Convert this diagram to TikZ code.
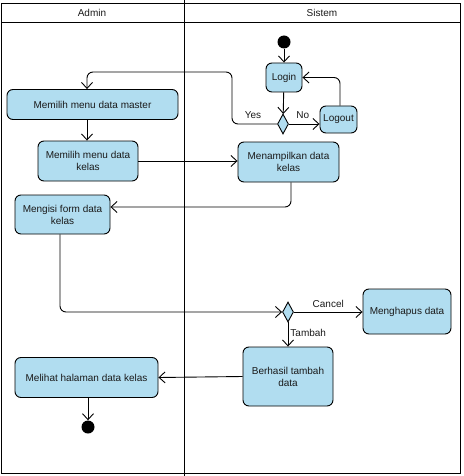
\documentclass[tikz,border=0pt]{standalone}
\usepackage{fontspec}
\setmainfont{Liberation Sans}
\usetikzlibrary{arrows.meta,shapes.geometric}
\definecolor{boxfill}{HTML}{B1DDF0}
\definecolor{txt}{HTML}{1A1A1A}
\tikzset{
  act/.style={draw=black, fill=boxfill, rounded corners=6pt, line width=0.9pt, align=center, text=txt, font=\fontsize{10}{12}\selectfont, inner sep=0pt},
  dec/.style={draw=black, fill=boxfill, diamond, line width=0.9pt, inner sep=0pt, minimum width=11pt, minimum height=20pt},
  dot/.style={circle, fill=black, inner sep=0pt, minimum size=13pt},
  flow/.style={draw=black, line width=0.9pt, -{Straight Barb[length=6pt,width=11pt,line width=0.9pt]}, rounded corners=6pt},
  lbl/.style={font=\fontsize{10}{12}\selectfont, text=txt, inner sep=0pt},
  lane/.style={draw=black, line width=0.9pt}
}
\begin{document}
\begin{tikzpicture}[x=1pt,y=-1pt]
\useasboundingbox (0,0) rectangle (463,476);
% swimlanes
\draw[lane] (1,3) rectangle (460,473);
\draw[lane] (1,22) -- (460,22);
\draw[lane] (184,0) -- (184,476);
\node[lbl] (hA) at (92,12.5) {Admin};
\node[lbl] (hS) at (322,12.5) {Sistem};
% nodes
\node[dot] (start) at (284,42) {};
\node[act, minimum width=36pt, minimum height=29pt] (login) at (284,77.5) {Login};
\node[dec] (d1) at (283,124) {};
\node[act, minimum width=37pt, minimum height=27pt] (logout) at (338.5,119.5) {Logout};
\node[act, minimum width=171pt, minimum height=30pt] (master) at (92.5,104.5) {Memilih menu data master};
\node[act, minimum width=100pt, minimum height=40pt] (kelas) at (88,161) {Memilih menu data\\kelas};
\node[act, minimum width=101pt, minimum height=40pt] (tampil) at (288.5,162) {Menampilkan data\\kelas};
\node[act, minimum width=95pt, minimum height=39pt] (isi) at (62.5,214.5) {Mengisi form data\\kelas};
\node[dec] (d2) at (288,312) {};
\node[act, minimum width=88pt, minimum height=45pt] (hapus) at (407,311.5) {Menghapus data};
\node[act, minimum width=90pt, minimum height=59pt] (berhasil) at (288,376.5) {Berhasil tambah\\data};
\node[act, minimum width=143pt, minimum height=40pt] (lihat) at (86.5,377.5) {Melihat halaman data kelas};
\node[dot] (end) at (88,427) {};
\coordinate (yc1) at (232,124);
\coordinate (yc2) at (232,72);
\coordinate (yc3) at (87,72);
% connectors
\draw[flow] (start) -- (login);
\draw[flow] (login) -- (d1);
\draw[flow] (d1) -- (logout.west |- d1) node[lbl, pos=0.45, above=5pt] {No};
\draw[flow] (logout.north -| 340,0) |- (login.east);
\draw[flow] (d1.west) -- (yc1) -- (yc2) -- (yc3) -- (yc3 |- master.north);
\node[lbl] (yes) at (253,115) {Yes};
\draw[flow] (master.south -| yc3) -- (yc3 |- kelas.north);
\draw[flow] (kelas.east) -- (tampil.west |- kelas.east);
\draw[flow] (tampil.south -| 291,0) |- (isi.east |- 0,207);
\draw[flow] (isi.south -| 60,0) |- (d2.west);
\draw[flow] (d2.east) -- (hapus.west |- d2.east) node[lbl, pos=0.5, above=4pt] {Cancel};
\draw[flow] (d2.south) -- (berhasil.north) node[lbl, pos=0.45, right=2pt] {Tambah};
\draw[flow] (berhasil.west) -- (lihat.east);
\draw[flow] (lihat.south -| end) -- (end);
\end{tikzpicture}
\end{document}
